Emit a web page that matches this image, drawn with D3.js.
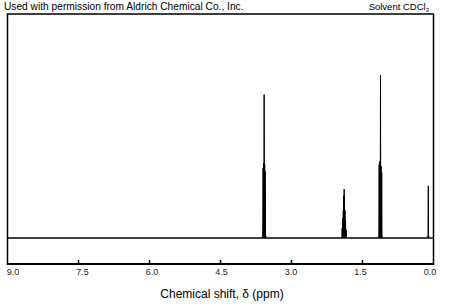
<!DOCTYPE html>
<html>
<head>
<meta charset="utf-8">
<script src="https://cdn.jsdelivr.net/npm/d3@7"></script>
<style>
  body { margin: 0; background: #fff; }
  svg { display: block; font-family: "Liberation Sans", Arial, sans-serif; }
</style>
</head>
<body>
<svg id="chart" width="452" height="304"></svg>
<script>
/* axis */
const tickValues = [9.0, 7.5, 6.0, 4.5, 3.0, 1.5, 0.0];
const tickLabels = ['9.0', '7.5', '6.0', '4.5', '3.0', '1.5', '0.0'];

/* resolved lines, ppm and relative height (tallest = 100) */
const linePpm = [3.600, 3.590, 3.578, 3.566, 3.556,
                 1.930, 1.918, 1.906, 1.896, 1.888, 1.880, 1.870, 1.858, 1.846,
                 1.148, 1.134, 1.120, 1.106, 1.094,
                 0.110];
const lineHeight = [43, 46, 88, 45, 41,
                    6, 12, 17, 26, 30, 25, 17, 11, 5,
                    45, 47, 100, 44, 40,
                    32];

/* low broad bumps at the foot of each multiplet */
const humpPpm = [3.578, 1.888, 1.120, 0.110];
const humpHeight = [1.8, 1.6, 1.8, 0.8];

const svg = d3.select('#chart');
const frameLeft = 7.5;
const frameRight = 433.5;
const frameTop = 14;
const frameBottom = 264;

const x = d3.scaleLinear().domain([9, 0]).range([frameLeft, frameRight]);
const labelX = d3.scaleLinear().domain([9, 0]).range([13, 430]);
const y = d3.scaleLinear().domain([0, 100]).range([238, 75]);

const line = d3.line().x(d => x(d[0])).y(d => y(d[1]));

/* header texts */
svg.append('text')
  .attr('x', 4)
  .attr('y', 10)
  .attr('font-size', 10.2)
  .text('Used with permission from Aldrich Chemical Co., Inc.');

const solvent = svg.append('text')
  .attr('x', 429)
  .attr('y', 10)
  .attr('font-size', 9.5)
  .attr('text-anchor', 'end');
solvent.append('tspan').text('Solvent CDCl');
solvent.append('tspan').attr('font-size', 6).attr('dy', 1.5).text('3');

/* frame */
svg.append('path')
  .attr('d', `M ${frameLeft} ${frameBottom} L ${frameLeft} ${frameTop} L ${frameRight} ${frameTop} L ${frameRight} ${frameBottom}`)
  .attr('fill', 'none')
  .attr('stroke', '#000')
  .attr('stroke-width', 1.5);

svg.append('line')
  .attr('x1', frameLeft - 0.75)
  .attr('x2', frameRight + 0.75)
  .attr('y1', frameBottom)
  .attr('y2', frameBottom)
  .attr('stroke', '#000')
  .attr('stroke-width', 1.8);

/* ticks, pointing inward */
svg.selectAll('.tick')
  .data(tickValues.slice(1, -1))
  .join('line')
  .attr('class', 'tick')
  .attr('x1', d => x(d))
  .attr('x2', d => x(d))
  .attr('y1', frameBottom)
  .attr('y2', frameBottom - 4)
  .attr('stroke', '#000')
  .attr('stroke-width', 1.5);

svg.selectAll('.tick-label')
  .data(tickValues)
  .join('text')
  .attr('class', 'tick-label')
  .attr('x', d => labelX(d))
  .attr('y', 275)
  .attr('font-size', 9)
  .attr('fill', '#222')
  .attr('text-anchor', 'middle')
  .text((d, i) => tickLabels[i]);

svg.append('text')
  .attr('x', 222)
  .attr('y', 297.5)
  .attr('font-size', 12)
  .attr('text-anchor', 'middle')
  .text('Chemical shift, \u03b4 (ppm)');

/* baseline */
svg.append('path')
  .attr('d', line([[9, 0], [0, 0]]))
  .attr('fill', 'none')
  .attr('stroke', '#000')
  .attr('stroke-width', 1.3);

/* humps */
humpPpm.forEach((p, i) => {
  const h = humpHeight[i];
  svg.append('path')
    .attr('d', line([[p + 0.07, 0], [p + 0.045, h * 0.6], [p + 0.02, h], [p, h * 0.7],
                     [p - 0.02, h], [p - 0.045, h * 0.6], [p - 0.07, 0]]))
    .attr('fill', 'none')
    .attr('stroke', '#555')
    .attr('stroke-width', 0.9);
});

/* spectrum lines */
linePpm.forEach((p, i) => {
  svg.append('path')
    .attr('d', line([[p + 0.006, 0], [p, lineHeight[i]], [p - 0.006, 0]]))
    .attr('fill', '#000')
    .attr('stroke', '#000')
    .attr('stroke-width', 1);
});
</script>
</body>
</html>
